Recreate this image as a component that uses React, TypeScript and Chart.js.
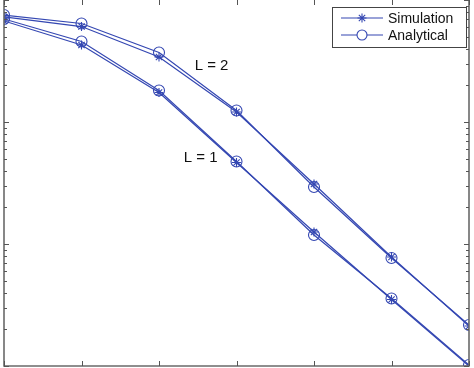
import React, { useEffect, useRef } from "react";
import { Chart, registerables } from "chart.js";

Chart.register(...registerables);

const xValues = [0, 1, 2, 3, 4, 5, 6];
const simL2 = [0.726, 0.606, 0.341, 0.1208, 0.031, 0.00782, 0.00213];
const anaL2 = [0.753, 0.642, 0.371, 0.1243, 0.0293, 0.00768, 0.00217];
const simL1 = [0.673, 0.428, 0.1745, 0.0466, 0.01254, 0.00351, 0.001];
const anaL1 = [0.699, 0.457, 0.181, 0.0475, 0.01185, 0.00358, 0.00102];
const curveLabels = ["L = 2", "L = 1"];
const labelX = [2.46, 2.32];
const labelY = [0.288, 0.0507];
const legendLabels = ["Simulation", "Analytical"];

const BLUE = "#3447b2";
const AXIS = "#6a6a6a";
const FONT = '"Liberation Sans", Arial, sans-serif';

function drawStar(ctx: CanvasRenderingContext2D, x: number, y: number, r: number) {
  ctx.beginPath();
  for (let k = 0; k < 4; k++) {
    const a = (k * Math.PI) / 4;
    ctx.moveTo(x - r * Math.cos(a), y - r * Math.sin(a));
    ctx.lineTo(x + r * Math.cos(a), y + r * Math.sin(a));
  }
  ctx.stroke();
}

const overlay = {
  id: "overlay",
  afterDraw(chart: any) {
    const { ctx, chartArea: a, scales } = chart;
    const xs = scales.x;
    const ys = scales.y;
    ctx.save();
    // frame
    ctx.strokeStyle = AXIS;
    ctx.lineWidth = 1.6;
    ctx.beginPath();
    ctx.moveTo(a.left, a.top - 2);
    ctx.lineTo(a.left, a.bottom);
    ctx.lineTo(a.right, a.bottom);
    ctx.lineTo(a.right, a.top - 2);
    ctx.stroke();
    // y ticks
    ctx.lineWidth = 1;
    ctx.strokeStyle = "#555";
    ctx.beginPath();
    for (let d = -3; d <= 0; d++) {
      for (let m = 1; m <= 9; m++) {
        const v = m * Math.pow(10, d);
        if (v < ys.min * 0.999 || v > ys.max * 1.001) continue;
        const py = Math.round(ys.getPixelForValue(v)) + 0.5;
        const len = m === 1 ? 5 : 3;
        ctx.moveTo(a.left, py);
        ctx.lineTo(a.left + len, py);
        ctx.moveTo(a.right, py);
        ctx.lineTo(a.right - len, py);
      }
    }
    // x ticks
    for (const v of xValues) {
      const px = Math.round(xs.getPixelForValue(v)) + 0.5;
      ctx.moveTo(px, a.bottom);
      ctx.lineTo(px, a.bottom - 5);
      ctx.moveTo(px, a.top);
      ctx.lineTo(px, a.top + 5);
    }
    ctx.stroke();

    // curve labels
    ctx.fillStyle = "#111";
    ctx.font = `15px ${FONT}`;
    ctx.textBaseline = "middle";
    ctx.textAlign = "left";
    curveLabels.forEach((t, i) => {
      ctx.fillText(t, xs.getPixelForValue(labelX[i]), ys.getPixelForValue(labelY[i]));
    });

    // legend
    const lx = 332.5, ly = 7.5, lw = 134, lh = 40;
    ctx.fillStyle = "#fff";
    ctx.fillRect(lx, ly, lw, lh);
    ctx.strokeStyle = "#444";
    ctx.lineWidth = 1;
    ctx.strokeRect(lx, ly, lw, lh);
    const rows = [18, 35];
    rows.forEach((ry, i) => {
      ctx.strokeStyle = BLUE;
      ctx.lineWidth = 1.1;
      ctx.beginPath();
      ctx.moveTo(341, ry);
      ctx.lineTo(383, ry);
      ctx.stroke();
      if (i === 0) drawStar(ctx, 362, ry, 4.5);
      else {
        ctx.fillStyle = "#fff";
        ctx.beginPath();
        ctx.arc(362, ry, 5, 0, Math.PI * 2);
        ctx.fill();
        ctx.stroke();
      }
      ctx.fillStyle = "#111";
      ctx.font = `14px ${FONT}`;
      ctx.fillText(legendLabels[i], 388, ry + 1);
    });
    ctx.restore();
  },
};

export default function App() {
  const ref = useRef<HTMLCanvasElement>(null);
  useEffect(() => {
    if (!ref.current) return;
    const mk = (vals: number[], star: boolean) => ({
      data: xValues.map((x, i) => ({ x, y: vals[i] })),
      borderColor: BLUE,
      backgroundColor: "rgba(0,0,0,0)",
      borderWidth: 1.2,
      pointStyle: star ? "star" : "circle",
      pointRadius: star ? 4.5 : 5.5,
      pointBorderWidth: 1.1,
      pointBorderColor: BLUE,
      pointBackgroundColor: "rgba(0,0,0,0)",
      tension: 0,
      clip: 0,
    });
    const chart = new Chart(ref.current, {
      type: "line",
      data: {
        datasets: [mk(simL2, true), mk(anaL2, false), mk(simL1, true), mk(anaL1, false)],
      },
      options: {
        animation: false,
        responsive: false,
        layout: { autoPadding: false, padding: { left: 4, right: 5, top: 0, bottom: 2 } },
        plugins: { legend: { display: false }, tooltip: { enabled: false } },
        scales: {
          x: { type: "linear", min: 0, max: 6, display: false },
          y: { type: "logarithmic", min: 0.001, max: 1, display: false },
        },
      },
      plugins: [overlay],
    });
    return () => chart.destroy();
  }, []);
  return (
    <div style={{ position: "absolute", left: 0, top: 0, width: 474, height: 368, background: "#fff" }}>
      <canvas ref={ref} width={474} height={368} />
    </div>
  );
}
